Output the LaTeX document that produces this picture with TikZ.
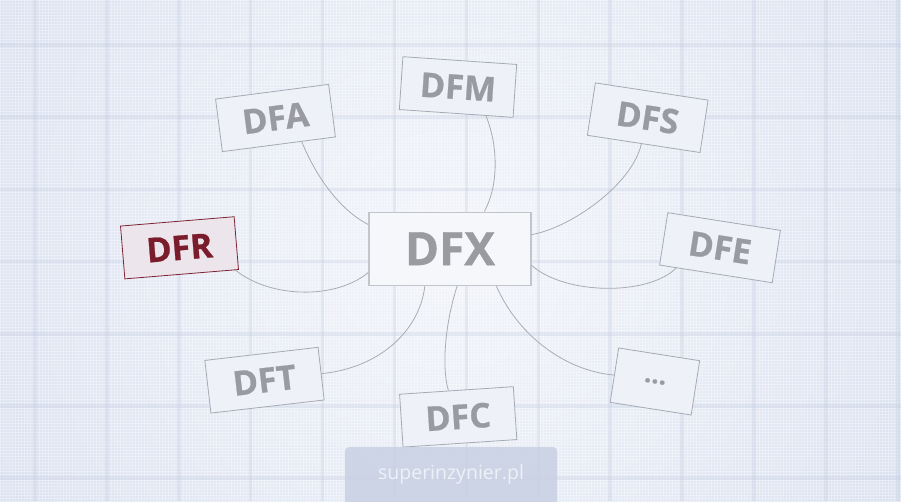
\documentclass[tikz,border=0pt]{standalone}
\usepackage{fontspec}
\setmainfont{Open Sans}
\newfontfamily\lblfont{Open Sans}[BoldFeatures={FakeBold=0.7}]
\usetikzlibrary{calc}
\definecolor{bgout}{HTML}{D5DDEE}
\definecolor{bgin}{HTML}{F3F5FA}
\definecolor{majorg}{HTML}{C3CCE0}
\definecolor{boxfill}{HTML}{EEF1F8}
\definecolor{boxline}{HTML}{A6AAB3}
\definecolor{centerfill}{HTML}{F5F7FB}
\definecolor{centerline}{HTML}{C2C5CC}
\definecolor{labelgray}{HTML}{9A9BA1}
\definecolor{linkgray}{HTML}{A9ACB3}
\definecolor{redline}{HTML}{7D2434}
\definecolor{redfill}{HTML}{ECE5EC}
\definecolor{redtext}{HTML}{7A1C2C}
\definecolor{wmfill}{HTML}{C8D0E3}
\definecolor{wmtext}{HTML}{EEF1F8}
\tikzset{
  fineg/.style={draw=white, opacity=0.3, line width=0.6pt},
  majorline/.style={draw=majorg, opacity=0.3, line width=3.5pt},
  box/.style={draw=boxline, fill=boxfill, line width=0.8pt, minimum width=114pt,
    minimum height=53pt, inner sep=0pt, text=labelgray,
    font=\lblfont\bfseries\fontsize{34}{34}\selectfont},
  redbox/.style={box, draw=redline, fill=redfill, text=redtext},
  centerbox/.style={draw=centerline, fill=centerfill, line width=1.4pt,
    minimum width=162pt, minimum height=73pt, inner sep=0pt, text=labelgray,
    font=\lblfont\bfseries\fontsize{46}{46}\selectfont},
  link/.style={draw=linkgray, line width=0.8pt},
}
\begin{document}
\begin{tikzpicture}[x=1pt,y=-1pt]
\useasboundingbox (0,0) rectangle (901,501);
\begin{scope}
\clip (0,0) rectangle (901,501);
\fill[bgout] (0,0) rectangle (901,501);
\shade[inner color=bgin, outer color=bgout] (450,250) circle (640);
\foreach \x in {0,3,...,900} \draw[fineg] (\x,0) -- (\x,501);
\foreach \y in {0,3,...,501} \draw[fineg] (0,\y) -- (901,\y);
\foreach \i in {0,...,12} \draw[majorline] (35+71.9*\i,0) -- (35+71.9*\i,501);
\foreach \i in {0,...,6} \draw[majorline] (0,45+72.2*\i) -- (901,45+72.2*\i);
\end{scope}

% nodes
\node[centerbox] (dfx) at (450,248.7) {DFX};
\node[box, rotate=7.4] (dfa) at (275.5,118) {DFA};
\node[box, rotate=-3.9] (dfm) at (458,87) {DFM};
\node[redbox, rotate=4.7] (dfr) at (179.5,247.8) {DFR};
\node[box, rotate=-8.7] (dfs) at (647.7,117.7) {DFS};
\node[box, rotate=-8.9] (dfe) at (720,247.7) {DFE};
\node[box, rotate=6.6] (dft) at (264.5,380.2) {DFT};
\node[box, rotate=3.8] (dfc) at (458.2,416.9) {DFC};
\node[box, rotate=-8.9, minimum width=82pt, minimum height=55pt,
  font=\lblfont\bfseries\fontsize{26}{26}\selectfont] (more) at (654.9,381.5) {...};

% connectors
\draw[link] ($(dfa.south west)!0.70!(dfa.south east)$)
  .. controls (315,174) and (338,209) .. ($(dfx.north west)!0.175!(dfx.south west)$);
\draw[link] ($(dfm.south west)!0.76!(dfm.south east)$)
  .. controls (498,145) and (499,185) .. ($(dfx.north west)!0.71!(dfx.north east)$);
\draw[link] ($(dfr.south west)!0.97!(dfr.south east)$)
  .. controls (270,298) and (335,300) .. ($(dfx.north west)!0.82!(dfx.south west)$);
\draw[link] ($(dfs.south west)!0.48!(dfs.south east)$)
  .. controls (632,185) and (570,228) .. ($(dfx.north east)!0.31!(dfx.south east)$);
\draw[link] ($(dfx.north east)!0.725!(dfx.south east)$)
  .. controls (565,295) and (648,296) .. ($(dfe.south west)!0.15!(dfe.south east)$);
\draw[link] ($(dfx.south west)!0.346!(dfx.south east)$)
  .. controls (420,330) and (380,368) .. (dft.east);
\draw[link] ($(dfx.south west)!0.544!(dfx.south east)$)
  .. controls (446,320) and (441,365) .. ($(dfc.north west)!0.43!(dfc.north east)$);
\draw[link] ($(dfx.south west)!0.784!(dfx.south east)$)
  .. controls (515,330) and (560,370) .. (more.west);

% watermark
\fill[wmfill, opacity=0.85, rounded corners=4pt] (345,447) rectangle (557,510);
\node[anchor=base, text=wmtext, font=\fontsize{19.5}{19.5}\selectfont, inner sep=0pt]
  (wm) at (451,479.5) {superinzynier.pl};
\end{tikzpicture}
\end{document}
